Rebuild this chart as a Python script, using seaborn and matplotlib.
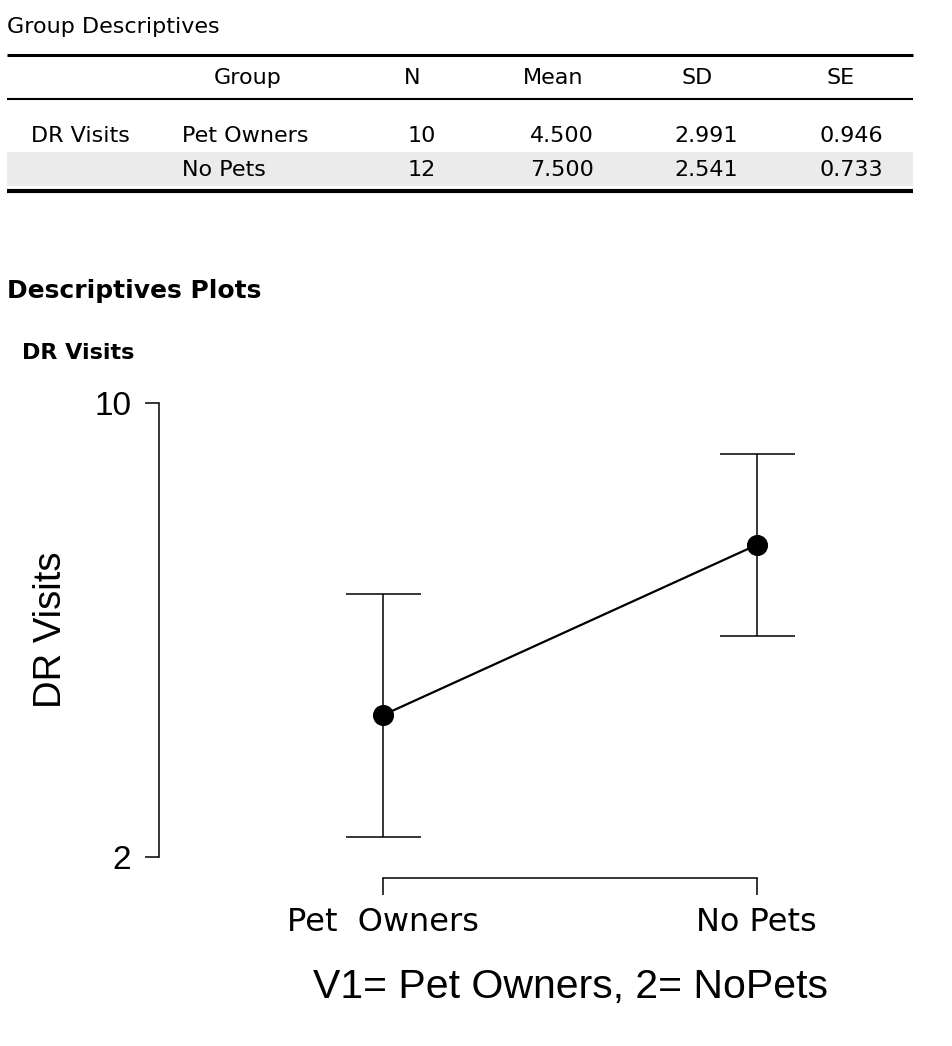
import matplotlib
matplotlib.use('Agg')
import matplotlib.pyplot as plt
from matplotlib.lines import Line2D
from matplotlib.patches import Rectangle
import numpy as np
import pandas as pd
import seaborn as sns

# table data
groups = ['Pet Owners', 'No Pets']
n_obs = [10, 12]
means = [4.5, 7.5]
sds = [2.991, 2.541]
ses = [0.946, 0.733]
# 95% CI bounds
ci_lower = [2.36, 5.89]
ci_upper = [6.64, 9.11]
tick_labels = ['Pet  Owners', 'No Pets']

W, H = 952, 1046
sns.set_style('ticks')
plt.rcParams['font.family'] = ['DejaVu Sans']
plt.rcParams['text.color'] = 'black'
plt.rcParams['axes.labelcolor'] = 'black'
plt.rcParams['axes.edgecolor'] = 'black'
plt.rcParams['xtick.color'] = 'black'
plt.rcParams['ytick.color'] = 'black'
fig = plt.figure(figsize=(W / 100, H / 100), dpi=100)

def fx(x):
    return x / W

def fy(y):
    return 1 - y / H

def hline(y, lw, x0=7, x1=913):
    fig.add_artist(Line2D([fx(x0), fx(x1)], [fy(y), fy(y)], transform=fig.transFigure,
                          color='black', lw=lw, solid_capstyle='butt'))

# ---- table ----
tfs = 16
fig.text(fx(7), fy(27), 'Group Descriptives', fontsize=tfs, ha='left', va='center')
fig.add_artist(Rectangle((fx(7), fy(186)), fx(906), 34 / H, transform=fig.transFigure,
                         color='#ebebeb', lw=0, zorder=0))
hline(55, 2.2)
hline(99, 1.5)
hline(191, 3.0)

fig.text(fx(248), fy(78), 'Group', fontsize=tfs, ha='center', va='center')
fig.text(fx(412), fy(78), 'N', fontsize=tfs, ha='center', va='center')
fig.text(fx(553), fy(78), 'Mean', fontsize=tfs, ha='center', va='center')
fig.text(fx(697), fy(78), 'SD', fontsize=tfs, ha='center', va='center')
fig.text(fx(841), fy(78), 'SE', fontsize=tfs, ha='center', va='center')

fig.text(fx(31), fy(136), 'DR Visits', fontsize=tfs, ha='left', va='center')
for i, row_y in enumerate([136, 170]):
    fig.text(fx(182), fy(row_y), groups[i], fontsize=tfs, ha='left', va='center')
    fig.text(fx(436), fy(row_y), f'{n_obs[i]}', fontsize=tfs, ha='right', va='center')
    fig.text(fx(594), fy(row_y), f'{means[i]:.3f}', fontsize=tfs, ha='right', va='center')
    fig.text(fx(738), fy(row_y), f'{sds[i]:.3f}', fontsize=tfs, ha='right', va='center')
    fig.text(fx(883), fy(row_y), f'{ses[i]:.3f}', fontsize=tfs, ha='right', va='center')

fig.text(fx(7), fy(291), 'Descriptives Plots', fontsize=18, fontweight='bold', ha='left', va='center')
fig.text(fx(22), fy(353), 'DR Visits', fontsize=16, fontweight='bold', ha='left', va='center')

# ---- plot ----
ax = fig.add_axes([fx(159), 1 - 857 / H, 710 / W, 454 / H])
df = pd.DataFrame({'group': groups, 'mean': means})
yerr = [np.array(means) - np.array(ci_lower), np.array(ci_upper) - np.array(means)]
ax.errorbar(x=[0, 1], y=means, yerr=yerr, fmt='none', ecolor='black',
            elinewidth=1.1, capsize=27, capthick=1.1, zorder=1)
sns.pointplot(data=df, x='group', y='mean', color='black', errorbar=None,
              markers='o', markersize=14, linewidth=1.6, ax=ax, zorder=3)

ax.set_xlim(-0.599, 1.3)
ax.set_ylim(2, 10)
ax.set_yticks([2, 10])
ax.set_xticks([0, 1])
ax.set_xticklabels(tick_labels)
ax.set_yticklabels(['2', '10'])
ax.tick_params(axis='y', length=10, width=1.1, pad=10, labelsize=24)
ax.tick_params(axis='x', length=12, width=1.1, pad=9, labelsize=23)
for lab in ax.get_xticklabels() + ax.get_yticklabels():
    lab.set_family('Liberation Sans')

for s in ['top', 'right']:
    ax.spines[s].set_visible(False)
ax.spines['left'].set_bounds(2, 10)
ax.spines['bottom'].set_bounds(0, 1)
ax.spines['bottom'].set_position(('outward', 15))
ax.spines['left'].set_linewidth(1.1)
ax.spines['bottom'].set_linewidth(1.1)

ax.set_ylabel('DR Visits', family='Liberation Sans', fontsize=27.5, labelpad=18)
ax.set_xlabel('V1= Pet Owners, 2= NoPets', family='Liberation Sans', fontsize=29.5)
ax.xaxis.set_label_coords(0.579, -0.245)

fig.savefig('out.png', dpi=100)
